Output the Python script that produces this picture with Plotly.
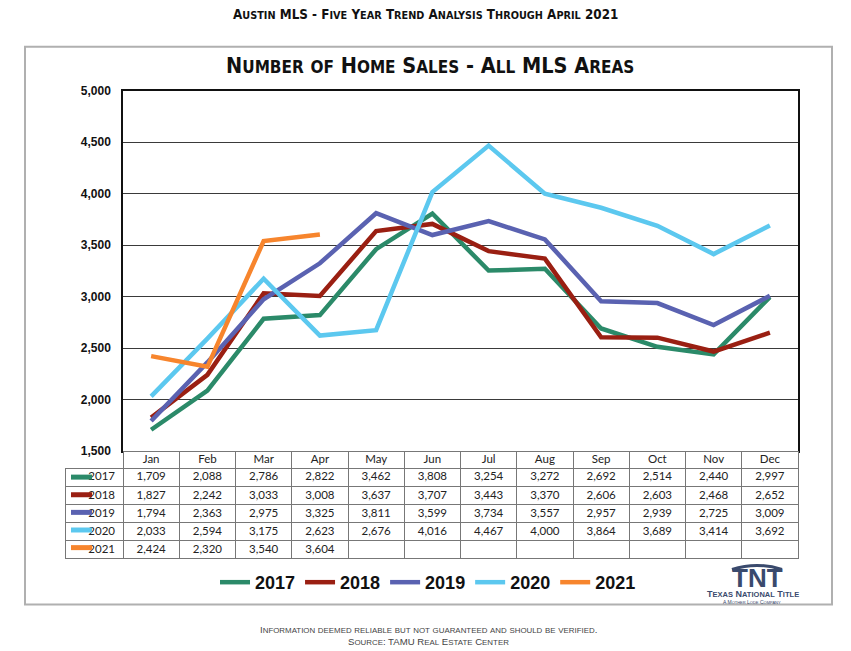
import plotly.graph_objects as go

W, H = 851, 651

months = ["Jan", "Feb", "Mar", "Apr", "May", "Jun", "Jul", "Aug", "Sep", "Oct", "Nov", "Dec"]
years = ["2017", "2018", "2019", "2020", "2021"]
sales_2017 = [1709, 2088, 2786, 2822, 3462, 3808, 3254, 3272, 2692, 2514, 2440, 2997]
sales_2018 = [1827, 2242, 3033, 3008, 3637, 3707, 3443, 3370, 2606, 2603, 2468, 2652]
sales_2019 = [1794, 2363, 2975, 3325, 3811, 3599, 3734, 3557, 2957, 2939, 2725, 3009]
sales_2020 = [2033, 2594, 3175, 2623, 2676, 4016, 4467, 4000, 3864, 3689, 3414, 3692]
sales_2021 = [2424, 2320, 3540, 3604]
series = [sales_2017, sales_2018, sales_2019, sales_2020, sales_2021]
colors = ["#2b8a69", "#9a1f12", "#5a62b1", "#5cc8ef", "#f7852d"]

y_ticks = [1500, 2000, 2500, 3000, 3500, 4000, 4500, 5000]

# vertical calibration of the page (observed render offset / scale)
OFF, SC = 7.4, 0.977

# table geometry (target pixels)
TABLE_TOP, HEADER_H, ROW_H = 451, 17, 17.6
TABLE_BOTTOM = TABLE_TOP + HEADER_H + ROW_H * len(years)
TEXT_LIFT = 4.8


def px_x(p):
    return p / W


def px_y(p):
    return 1 - ((p - OFF) / SC) / H


def hpx(h):
    return h / SC


def small_caps(text, big, small):
    out = []
    for ch in text:
        if ch.islower():
            out.append(f"<span style='font-size:{small}px'>{ch.upper()}</span>")
        else:
            out.append(f"<span style='font-size:{big}px'>{ch}</span>")
    return "".join(out)


fig = go.Figure()

for yr, vals, col in zip(years, series, colors):
    fig.add_trace(go.Scatter(
        x=months[:len(vals)], y=vals, name=yr, mode="lines",
        line=dict(color=col, width=4.5),
        xaxis="x", yaxis="y",
    ))


def fmt(v):
    return f"{v:,}"


cols = [years]
for i in range(12):
    cols.append([fmt(s[i]) if i < len(s) else "" for s in series])
blank_cols = [["" for _ in c] for c in cols]

table_font = dict(family="Lato, DejaVu Sans, sans-serif", size=11.5, color="#222")
col_widths = [58] + [56.25] * 12
clear = "rgba(0,0,0,0)"

# grid of the table (cell borders and fills)
fig.add_trace(go.Table(
    domain=dict(x=[px_x(65), px_x(798)], y=[px_y(TABLE_BOTTOM + 20), px_y(TABLE_TOP)]),
    columnwidth=col_widths,
    header=dict(values=[""] * 13, height=hpx(HEADER_H),
                line=dict(color=[clear] + ["#777"] * 12, width=1),
                fill=dict(color=[clear] + ["white"] * 12), font=table_font),
    cells=dict(values=blank_cols, height=hpx(ROW_H),
               line=dict(color="#777", width=1), fill=dict(color="white"), font=table_font),
))
# text of the table, vertically centred in the cells
fig.add_trace(go.Table(
    domain=dict(x=[px_x(65), px_x(798)], y=[px_y(TABLE_BOTTOM + 20), px_y(TABLE_TOP - TEXT_LIFT)]),
    columnwidth=col_widths,
    header=dict(values=[""] + months, height=hpx(HEADER_H), align="center",
                line=dict(color=clear, width=0), fill=dict(color=clear), font=table_font),
    cells=dict(values=cols, height=hpx(ROW_H), align=["right"] + ["center"] * 12,
               line=dict(color=clear, width=0), fill=dict(color=clear), font=table_font),
))

title_font = "Liberation Sans Narrow, DejaVu Sans Condensed, Arial Narrow, sans-serif"


def ann(text, x, y, font):
    return dict(text=text, x=px_x(x), y=px_y(y), xref="paper", yref="paper", showarrow=False,
                xanchor="center", yanchor="middle", font=font)


annotations = [
    ann("<b>" + small_caps("Austin MLS - Five Year Trend Analysis Through April 2021", 13.3, 10.8) + "</b>",
        425, 15, dict(family=title_font, color="#111")),
    ann("<b>" + small_caps("Number of Home Sales - All MLS Areas", 21.5, 17) + "</b>",
        430, 66, dict(family=title_font, color="#111")),
    ann(small_caps("Information deemed reliable but not guaranteed and should be verified.", 9.6, 7.9),
        428, 629, dict(family="Liberation Sans, Arial, sans-serif", color="#444")),
    ann(small_caps("Source: TAMU Real Estate Center", 9.6, 7.9),
        428, 641, dict(family="Liberation Sans, Arial, sans-serif", color="#444")),
    ann("<b>TNT</b>", 757, 578, dict(family="Liberation Sans, Arial, sans-serif", size=26, color="#3a4a6d")),
    ann("<b>" + small_caps("Texas National Title", 9, 7.5) + "</b>",
        753, 594, dict(family="Liberation Sans, Arial, sans-serif", color="#3a4a6d")),
    ann(small_caps("A Mother Lode Company", 5, 4),
        752, 601, dict(family="Liberation Sans, Arial, sans-serif", color="#3a4a6d")),
]

shapes = [
    dict(type="rect", xref="paper", yref="paper", x0=px_x(25), x1=px_x(832), y0=px_y(604), y1=px_y(47),
         line=dict(color="#b0b0b0", width=2), layer="below"),
    dict(type="path", xref="paper", yref="paper",
         path=f"M {px_x(732)} {px_y(569)} Q {px_x(757)} {px_y(561)} {px_x(782)} {px_y(569)}",
         line=dict(color="#3a4a6d", width=3)),
]
# colour keys in the table's first column
for i, col in enumerate(colors):
    yc = TABLE_TOP + HEADER_H + ROW_H * (i + 0.5)
    shapes.append(dict(type="line", xref="paper", yref="paper",
                       x0=px_x(71), x1=px_x(92), y0=px_y(yc), y1=px_y(yc),
                       line=dict(color=col, width=5)))

fig.update_layout(
    width=W, height=H,
    margin=dict(l=0, r=0, t=0, b=0),
    paper_bgcolor="white", plot_bgcolor="white",
    showlegend=True,
    legend=dict(orientation="h", x=px_x(428), xanchor="center", y=px_y(582), yanchor="middle",
                font=dict(family="Liberation Sans, Arial, sans-serif", size=18, color="#111", weight="bold"),
                itemwidth=30, tracegroupgap=0),
    xaxis=dict(domain=[px_x(123), px_x(798)], type="category", categoryarray=months,
               range=[-0.5, 11.5], showticklabels=False, showgrid=False, ticks="",
               showline=True, linecolor="#111", linewidth=1.5, mirror=True, zeroline=False),
    yaxis=dict(domain=[px_y(451), px_y(91)], range=[1500, 5000], tickvals=y_ticks,
               ticktext=[f"{v:,}" for v in y_ticks], ticks="", ticklabelstandoff=8,
               showgrid=True, gridcolor="#3a3a3a", gridwidth=1,
               showline=True, linecolor="#111", linewidth=1.5, mirror=True, zeroline=False,
               tickfont=dict(family="Liberation Sans, Arial, sans-serif", size=12, color="#111", weight="bold")),
    annotations=annotations,
    shapes=shapes,
)

fig.write_html("out.html")
